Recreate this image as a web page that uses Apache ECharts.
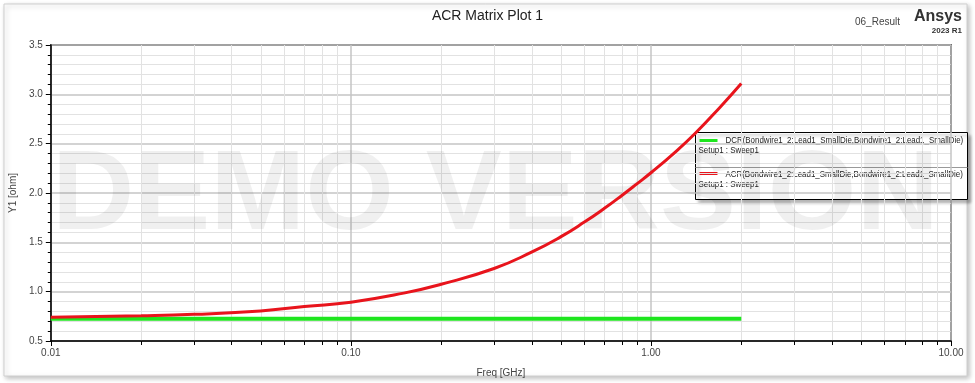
<!DOCTYPE html>
<html>
<head>
<meta charset="utf-8">
<script src="https://cdn.jsdelivr.net/npm/echarts@6/dist/echarts.min.js"></script>
<style>
  body { margin: 0; background: #fff; }
  #main { width: 975px; height: 383px; }
</style>
</head>
<body>
<div id="main"></div>
<script>
// data
var freqGHz = [0.01, 0.02, 0.03, 0.05, 0.07, 0.1, 0.15, 0.2, 0.3, 0.4, 0.5, 0.6, 0.7, 0.8, 0.9, 1.0, 1.2, 1.4, 1.7, 2.0];
var acrOhm = [0.74, 0.755, 0.77, 0.805, 0.85, 0.893, 0.985, 1.075, 1.235, 1.40, 1.555, 1.705, 1.845, 1.975, 2.095, 2.205, 2.41, 2.60, 2.87, 3.11];
var dcrOhm = [0.725, 0.725, 0.725, 0.725, 0.725, 0.725, 0.725, 0.725, 0.725, 0.725,
              0.725, 0.725, 0.725, 0.725, 0.725, 0.725, 0.725, 0.725, 0.725, 0.725];
// minor log ticks (2..9 in each decade)
var minorFreqs = [0.02, 0.03, 0.04, 0.05, 0.06, 0.07, 0.08, 0.09,
                  0.2, 0.3, 0.4, 0.5, 0.6, 0.7, 0.8, 0.9,
                  2, 3, 4, 5, 6, 7, 8, 9];
var dcrName = "DCR(Bondwire1_2:Lead1_SmallDie,Bondwire1_2:Lead1_SmallDie)";
var acrName = "ACR(Bondwire1_2:Lead1_SmallDie,Bondwire1_2:Lead1_SmallDie)";
var setupName = "Setup1 : Sweep1";

var font = "'Liberation Sans', Arial, sans-serif";
var myChart = echarts.init(document.getElementById("main"));

function pairs(xs, ys) {
  return xs.map(function (x, i) { return [x, ys[i]]; });
}

// legend text, a bit condensed like the original
function legendText(x, y, text) {
  return { type: "text", x: x, y: y, scaleX: 0.88, style: { text: text, font: "9px " + font, fill: "#222" } };
}

myChart.setOption({
  animation: false,
  textStyle: { fontFamily: font },
  grid: {
    left: 48, right: 24, top: 45, bottom: 38,
    show: true, borderColor: "#000", borderWidth: 1.5, backgroundColor: "transparent"
  },
  xAxis: {
    type: "log",
    logBase: 10,
    min: 0.01,
    max: 10,
    name: "Freq [GHz]",
    nameLocation: "middle",
    nameGap: 27,
    nameTextStyle: { fontSize: 10, color: "#444" },
    axisLine: { lineStyle: { color: "#000", width: 1.5 } },
    axisTick: { length: 5, lineStyle: { color: "#000" } },
    axisLabel: {
      fontSize: 10, color: "#444", margin: 7,
      formatter: function (v) { return Number(v).toFixed(2); }
    },
    splitLine: { show: true, lineStyle: { color: "#c4c4c4", width: 1.5 } }
  },
  yAxis: {
    type: "value",
    min: 0.5,
    max: 3.5,
    interval: 0.5,
    name: "Y1 [ohm]",
    nameLocation: "middle",
    nameGap: 32,
    nameTextStyle: { fontSize: 10, color: "#444" },
    axisLine: { show: true, lineStyle: { color: "#000", width: 1.5 } },
    axisTick: { show: true, length: 5, lineStyle: { color: "#000" } },
    minorTick: { show: true, splitNumber: 5, length: 3, lineStyle: { color: "#000" } },
    axisLabel: {
      fontSize: 10, color: "#444", margin: 8,
      formatter: function (v) { return v.toFixed(1); }
    },
    splitLine: { show: true, lineStyle: { color: "#c4c4c4", width: 1.5 } },
    minorSplitLine: { show: true, lineStyle: { color: "#e2e2e2", width: 1 } }
  },
  graphic: [
    // panel frame with shadow
    {
      type: "rect", z: -10, silent: true,
      shape: { x: 4, y: 4, width: 963, height: 372 },
      style: {
        fill: "#fff", stroke: "#cfcfcf", lineWidth: 1,
        shadowBlur: 5, shadowOffsetX: 2, shadowOffsetY: 2, shadowColor: "rgba(0,0,0,0.25)"
      }
    },
    // watermark
    {
      type: "text", z: 1, silent: true,
      left: 52, top: 141,
      style: {
        text: "DEMO VERSION",
        font: "bold 114px " + font,
        fill: "rgba(0,0,0,0.06)"
      }
    },
    // title and branding
    {
      type: "text", left: "center", top: 9,
      style: { text: "ACR Matrix Plot 1", font: "14px " + font, fill: "#222" }
    },
    {
      type: "text", right: 75, top: 17,
      style: { text: "06_Result", font: "10px " + font, fill: "#444" }
    },
    {
      type: "text", right: 13, top: 9,
      style: { text: "Ansys", font: "bold 16px " + font, fill: "#333" }
    },
    {
      type: "text", right: 13, top: 27,
      style: { text: "2023 R1", font: "bold 8px " + font, fill: "#333" }
    },
    // legend box
    {
      type: "group", left: 693, top: 132, z: 10,
      children: [
        {
          type: "rect", shape: { x: 0, y: 0, width: 272, height: 67 },
          style: {
            fill: "#fff", stroke: "#000", lineWidth: 1,
            shadowBlur: 3, shadowOffsetX: 3, shadowOffsetY: 3, shadowColor: "rgba(0,0,0,0.3)"
          }
        },
        { type: "line", shape: { x1: 0, y1: 35, x2: 272, y2: 35 }, style: { stroke: "#999", lineWidth: 1 } },
        { type: "line", shape: { x1: 4, y1: 8, x2: 22, y2: 8 }, style: { stroke: "#1ee61e", lineWidth: 3 } },
        legendText(30, 4, dcrName),
        legendText(3, 14, setupName),
        { type: "line", shape: { x1: 4, y1: 41, x2: 22, y2: 41 }, style: { stroke: "#e8141c", lineWidth: 3 } },
        legendText(30, 38, acrName),
        legendText(3, 48, setupName)
      ]
    }
  ],
  series: [
    {
      // minor decade grid lines and ticks on the log axis
      type: "custom",
      silent: true,
      clip: false,
      z: 0,
      data: minorFreqs.map(function (f) { return [f, 0.5]; }),
      encode: { x: 0, y: 1 },
      renderItem: function (params, api) {
        var b = api.coord([api.value(0), 0.5]);
        var t = api.coord([api.value(0), 3.5]);
        var x = Math.round(b[0]) + 0.5;
        return {
          type: "group",
          children: [
            { type: "line", shape: { x1: x, y1: t[1], x2: x, y2: b[1] }, style: { stroke: "#e2e2e2", lineWidth: 1 } },
            { type: "line", shape: { x1: x, y1: b[1], x2: x, y2: b[1] + 4 }, style: { stroke: "#000", lineWidth: 1 } }
          ]
        };
      }
    },
    {
      name: dcrName,
      type: "line",
      data: pairs(freqGHz, dcrOhm),
      showSymbol: false,
      z: 3,
      lineStyle: { color: "#1ee61e", width: 4 }
    },
    {
      name: acrName,
      type: "line",
      data: pairs(freqGHz, acrOhm),
      showSymbol: false,
      smooth: 0.5,
      z: 4,
      lineStyle: { color: "#e8141c", width: 3 }
    }
  ]
});
</script>
</body>
</html>
